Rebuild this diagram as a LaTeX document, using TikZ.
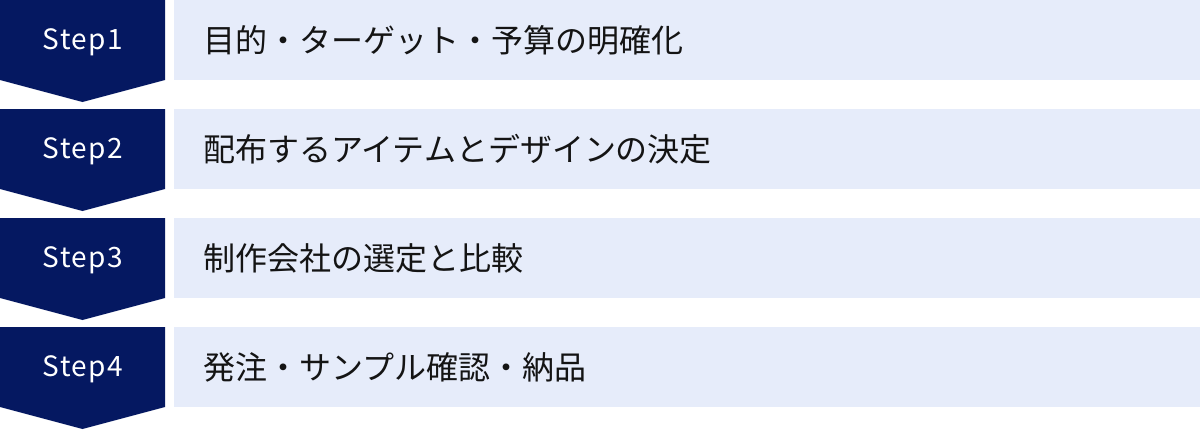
\documentclass[tikz,border=0pt]{standalone}
\usepackage{fontspec}
\newfontfamily\jpfont{Noto Sans CJK JP}
\newfontfamily\stepfont[LetterSpace=5]{Noto Sans CJK JP}
\usetikzlibrary{positioning}
\definecolor{stepnavy}{RGB}{5,24,97}
\definecolor{rowblue}{RGB}{230,236,250}
\definecolor{rowtext}{RGB}{20,20,20}
\tikzset{x = 1pt, y = -1pt,
         node distance = 109pt, on grid,
         steptext/.style = {text = white, inner sep = 0pt,
                            font = \stepfont\fontsize{28}{34}\selectfont},
         rowbox/.style = {fill = rowblue, text = rowtext, anchor = west,
                          minimum width = 1026pt, minimum height = 80pt,
                          text width = 968pt, align = left,
                          inner xsep = 29pt, inner ysep = 0pt,
                          font = \jpfont\fontsize{32}{38}\selectfont},
         chevron/.style = {fill = stepnavy}}

\begin{document}
\begin{tikzpicture}
        \useasboundingbox (0,0) rectangle (1200,429);

        \fill[chevron] (0,0)   -- (165,0)   -- (165,80)  -- (82.5,102) -- (0,80)  -- cycle;
        \fill[chevron] (0,109) -- (165,109) -- (165,189) -- (82.5,211) -- (0,189) -- cycle;
        \fill[chevron] (0,218) -- (165,218) -- (165,298) -- (82.5,320) -- (0,298) -- cycle;
        \fill[chevron] (0,327) -- (165,327) -- (165,407) -- (82.5,429) -- (0,407) -- cycle;

        \node[steptext]         (s1)                    at (83,42) {Step1};
        \node[steptext]         (s2) [below = of s1]    {Step2};
        \node[steptext]         (s3) [below = of s2]    {Step3};
        \node[steptext]         (s4) [below = of s3]    {Step4};

        \node[rowbox]           (t1)                    at (174,40) {目的・ターゲット・予算の明確化};
        \node[rowbox]           (t2) [below = of t1]    {配布するアイテムとデザインの決定};
        \node[rowbox]           (t3) [below = of t2]    {制作会社の選定と比較};
        \node[rowbox]           (t4) [below = of t3]    {発注・サンプル確認・納品};
    \end{tikzpicture}
\end{document}
